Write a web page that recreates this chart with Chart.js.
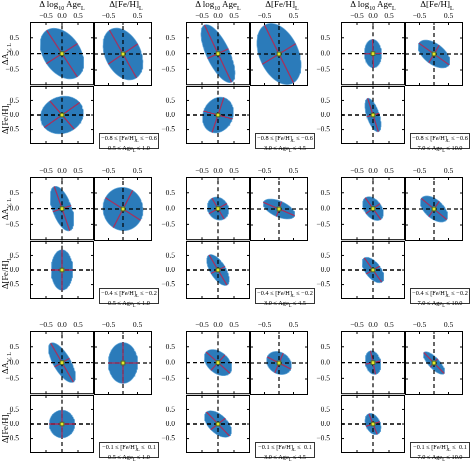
<!DOCTYPE html>
<html><head><meta charset="utf-8">
<script src="https://cdn.jsdelivr.net/npm/chart.js@4"></script>
<style>
body{margin:0;width:474px;height:463px;background:#fff;position:relative;overflow:hidden;font-family:"Liberation Serif",serif;}
canvas{position:absolute;}
.t{position:absolute;font-size:9px;white-space:nowrap;color:#000;}
.t sub{font-size:6px;}
.yl{position:absolute;font-size:8.5px;white-space:nowrap;transform:translate(-50%,-50%) rotate(-90deg);}
.yl sub{font-size:6px;}
.box{position:absolute;border:1px solid #333;font-size:6.3px;line-height:7px;text-align:center;background:#fff;color:#000;}
.box sub{font-size:4.5px;}
</style></head><body>
<script>
// Group order: rows = [Fe/H] bins, cols = Age bins
const fehBins = ["\u22120.8 \u2264 [Fe/H]<sub>L</sub> \u2264 \u22120.6","\u22120.4 \u2264 [Fe/H]<sub>L</sub> \u2264 \u22120.2","\u22120.1 \u2264 [Fe/H]<sub>L</sub> \u2264 &nbsp;0.1"];
const ageBins = ["0.5 \u2264 Age<sub>L</sub> \u2264 1.0","3.0 \u2264 Age<sub>L</sub> \u2264 4.5","7.0 \u2264 Age<sub>L</sub> \u2264 10.0"];
const tickValues = [-0.5, 0, 0.5];
const axisMin = -1, axisMax = 1;
// ellipse params per group [a, b, thetaDeg] for panels TL (Age vs AV), TR (FeH vs AV), BL (Age vs FeH)
const ellTL = [[0.88,0.58,-57],[1.00,0.36,-65],[0.45,0.27,92],
               [0.74,0.30,-71],[0.38,0.32,-60],[0.42,0.27,-55],
               [0.71,0.27,-60],[0.50,0.33,-42],[0.38,0.24,-78]];
const ellTR = [[0.88,0.6,-58],[1.03,0.66,-61],[0.62,0.33,-33],
               [0.70,0.67,-30],[0.58,0.25,-21],[0.55,0.30,-37],
               [0.64,0.51,90],[0.45,0.34,-25],[0.48,0.18,-43]];
const ellBL = [[0.70,0.62,38],[0.63,0.47,73],[0.60,0.20,-74],
               [0.70,0.34,90],[0.59,0.25,-62],[0.50,0.25,-57],
               [0.48,0.40,90],[0.55,0.30,-49],[0.38,0.23,-70]];
const centerX = [0,0,0,0,0,0,0,0,0];
const centerY = [0,0,0,0,0,0,0,0,0];

const GX=[30,186,341], GY=[22,177,331], P=64;
const FONT="'Liberation Serif', serif";
const fmt=v=>v===0?'0.0':(v<0?'\u2212'+Math.abs(v).toFixed(1):v.toFixed(1));

const framePlugin={id:'frame',afterDraw(ch){
  const {ctx,chartArea:a,scales:{x,y}}=ch;
  ctx.save();ctx.strokeStyle='#000';ctx.lineWidth=1;
  ctx.strokeRect(a.left+0.5,a.top+0.5,a.right-a.left-1,a.bottom-a.top-1);
  ctx.beginPath();
  tickValues.forEach(v=>{
    const px=x.getPixelForValue(v), py=y.getPixelForValue(v);
    ctx.moveTo(px,a.top);ctx.lineTo(px,a.top+3);
    ctx.moveTo(px,a.bottom);ctx.lineTo(px,a.bottom-3);
    ctx.moveTo(a.left,py);ctx.lineTo(a.left+3,py);
    ctx.moveTo(a.right,py);ctx.lineTo(a.right-3,py);
  });
  ctx.stroke();
  if(ch.options.showXLabels){
    ctx.fillStyle='#000';ctx.font='7.5px '+FONT;ctx.textAlign='center';ctx.textBaseline='bottom';
    x.ticks.forEach(tk=>ctx.fillText(fmt(tk.value),x.getPixelForValue(tk.value),a.top-2));
  }
  ctx.restore();
}};

function ellipsePts(cx,cy,a,b,th){
  const t=th*Math.PI/180, pts=[];
  for(let i=0;i<=80;i++){const u=2*Math.PI*i/80;
    pts.push({x:cx+a*Math.cos(u)*Math.cos(t)-b*Math.sin(u)*Math.sin(t),
              y:cy+a*Math.cos(u)*Math.sin(t)+b*Math.sin(u)*Math.cos(t)});}
  return pts;
}
const noPad=s=>{s.paddingLeft=s.paddingRight=s.paddingTop=s.paddingBottom=0;};
function panel(left,top,showX,showY,cx,cy,e){
  const Lp=showY?27:0,Tp=showX?12:0;
  const c=document.createElement('canvas');
  c.width=P+Lp;c.height=P+Tp;
  c.style.left=(left-Lp)+'px';c.style.top=(top-Tp)+'px';
  document.body.appendChild(c);
  const [a,b,th]=e,t=th*Math.PI/180;
  const line=(col,w,dash,d,ord)=>({data:d,showLine:true,borderColor:col,borderWidth:w,borderDash:dash,pointRadius:0,fill:false,order:ord});
  const ch=new Chart(c,{type:'scatter',data:{datasets:[
    {data:[{x:cx,y:cy}],pointStyle:'rect',pointRadius:2.6,backgroundColor:'#e6e62a',borderColor:'#4d6b2a',borderWidth:1,order:0},
    line('#a8305c',1.2,[],[{x:cx-a*Math.cos(t),y:cy-a*Math.sin(t)},{x:cx+a*Math.cos(t),y:cy+a*Math.sin(t)}],1),
    line('#a8305c',1.2,[],[{x:cx+b*Math.sin(t),y:cy-b*Math.cos(t)},{x:cx-b*Math.sin(t),y:cy+b*Math.cos(t)}],1),
    line('#000',1.2,[4,3],[{x:axisMin,y:0},{x:axisMax,y:0}],2),
    line('#000',1.2,[4,3],[{x:0,y:axisMin},{x:0,y:axisMax}],2),
    {data:ellipsePts(cx,cy,a,b,th),showLine:true,fill:'shape',backgroundColor:'#2b7bba',borderColor:'#6aacdc',borderWidth:0.6,pointRadius:0,order:3}
  ]},options:{animation:false,responsive:false,devicePixelRatio:2,showXLabels:showX,
    layout:{padding:{left:0,right:0,top:Tp,bottom:0}},plugins:{legend:{display:false},tooltip:{enabled:false}},
    scales:{
      x:{type:'linear',min:axisMin,max:axisMax,display:false,
        afterBuildTicks:s=>{s.ticks=tickValues.map(v=>({value:v}));}},
      y:{type:'linear',min:axisMin,max:axisMax,display:showY,
        afterBuildTicks:s=>{s.ticks=tickValues.map(v=>({value:v}));},afterFit:s=>{s.width=Lp;noPad(s);},
        grid:{display:false},border:{display:false},
        ticks:{font:{family:FONT,size:7.5},color:'#000',padding:3,autoSkip:false,callback:fmt}}
    }},plugins:[framePlugin]});
  for(let i=0;i<3;i++){
    const aw=ch.chartArea.right-ch.chartArea.left, ah=ch.chartArea.bottom-ch.chartArea.top;
    if(Math.abs(aw-P)<0.01&&Math.abs(ah-P)<0.01)break;
    ch.resize(ch.width+(P-aw),ch.height+(P-ah));
  }
  c.style.left=(left-ch.chartArea.left)+'px';c.style.top=(top-ch.chartArea.top)+'px';
}
function txt(cls,html,x,y,center){const d=document.createElement('div');d.className=cls;d.innerHTML=html;
  d.style.left=x+'px';d.style.top=y+'px';if(center==='x')d.style.transform='translateX(-50%)';document.body.appendChild(d);return d;}

for(let r=0;r<3;r++)for(let c=0;c<3;c++){
  const g=r*3+c,gx=GX[c],gy=GY[r];
  panel(gx,gy+P,false,true,centerX[g],centerY[g],ellBL[g]);
  panel(gx+P,gy,true,false,centerX[g],centerY[g],ellTR[g]);
  panel(gx,gy,true,true,centerX[g],centerY[g],ellTL[g]);
  const b=txt('box',fehBins[r]+'<br>'+ageBins[c],gx+P+5,gy+P+47);
  b.style.width='58px';b.style.height='14px';
  if(r===0){
    txt('t','\u0394 log<sub>10</sub> Age<sub>L</sub>',gx+P/2,-1,'x');
    txt('t','\u0394[Fe/H]<sub>L</sub>',gx+P*1.5,-1,'x');
  }
  if(c===0){
    txt('yl','\u0394A<sub>V, L</sub>',6,gy+P/2);
    txt('yl','\u0394[Fe/H]<sub>L</sub>',6,gy+P*1.5);
  }
}
</script>
</body></html>
